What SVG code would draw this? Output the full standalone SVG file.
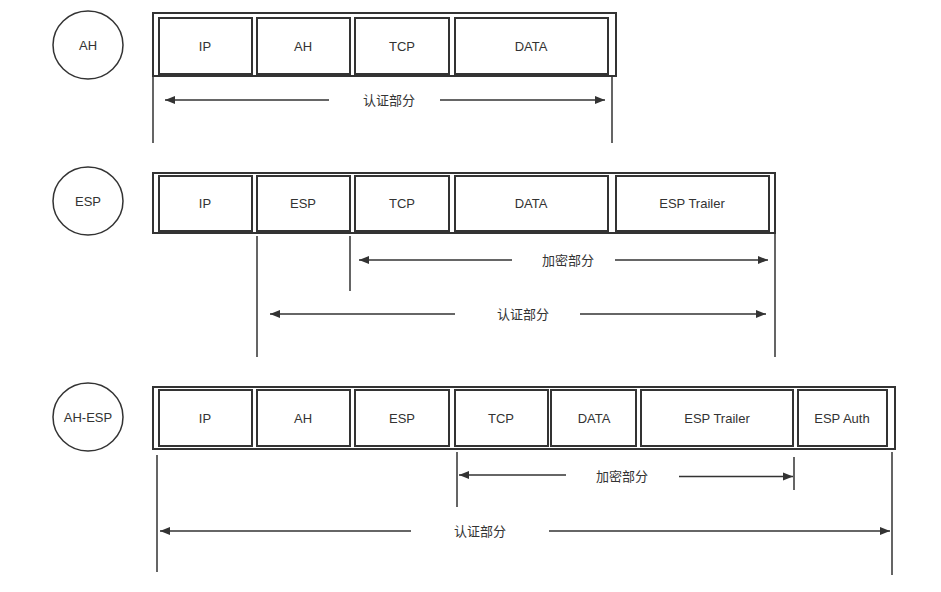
<svg xmlns="http://www.w3.org/2000/svg" width="941" height="592" viewBox="0 0 941 592">
<defs>
<style>
.o{fill:#fff;stroke:#333;stroke-width:2}
.b{fill:#fff;stroke:#333;stroke-width:2}
.c{fill:#fff;stroke:#333;stroke-width:1.5}
.t{font-family:"Liberation Sans","Noto Sans CJK SC",sans-serif;font-size:13px;fill:#333;text-anchor:middle;dominant-baseline:central}
.l{stroke:#333;stroke-width:1.5;fill:none}
</style>
<marker id="a" viewBox="0 0 10 10" refX="10" refY="5" markerWidth="10" markerHeight="10" markerUnits="userSpaceOnUse" orient="auto-start-reverse"><path d="M0,1 L10,5 L0,9 Z" fill="#333"/></marker>
</defs>
<g id="row1">
<g id="c1"><ellipse class="c" cx="88" cy="45" rx="35" ry="34"/><text class="t" x="88" y="45">AH</text></g>
<rect class="o" x="153" y="13" width="463" height="63"/>
<g id="r1ip"><rect class="b" x="159" y="18" width="93" height="56"/><text class="t" x="205" y="46">IP</text></g>
<g id="r1ah"><rect class="b" x="257" y="18" width="93" height="56"/><text class="t" x="303" y="46">AH</text></g>
<g id="r1tcp"><rect class="b" x="355" y="18" width="94" height="56"/><text class="t" x="402" y="46">TCP</text></g>
<g id="r1data"><rect class="b" x="455" y="18" width="153" height="56"/><text class="t" x="531" y="46">DATA</text></g>
</g>
<g id="row2">
<g id="c2"><ellipse class="c" cx="88" cy="201" rx="35" ry="34"/><text class="t" x="88" y="201">ESP</text></g>
<rect class="o" x="153" y="173" width="622" height="60"/>
<g id="r2ip"><rect class="b" x="159" y="176" width="93" height="55"/><text class="t" x="205" y="203">IP</text></g>
<g id="r2esp"><rect class="b" x="257" y="176" width="93" height="55"/><text class="t" x="303" y="203">ESP</text></g>
<g id="r2tcp"><rect class="b" x="355" y="176" width="94" height="55"/><text class="t" x="402" y="203">TCP</text></g>
<g id="r2data"><rect class="b" x="455" y="176" width="153" height="55"/><text class="t" x="531" y="203">DATA</text></g>
<g id="r2tr"><rect class="b" x="616" y="176" width="153" height="55"/><text class="t" x="692" y="203">ESP Trailer</text></g>
</g>
<g id="row3">
<g id="c3"><ellipse class="c" cx="88" cy="417" rx="35" ry="34"/><text class="t" x="88" y="417">AH-ESP</text></g>
<rect class="o" x="153" y="387" width="742" height="62"/>
<g id="r3ip"><rect class="b" x="159" y="390" width="93" height="56"/><text class="t" x="205" y="418">IP</text></g>
<g id="r3ah"><rect class="b" x="257" y="390" width="93" height="56"/><text class="t" x="303" y="418">AH</text></g>
<g id="r3esp"><rect class="b" x="355" y="390" width="94" height="56"/><text class="t" x="402" y="418">ESP</text></g>
<g id="r3tcp"><rect class="b" x="455" y="390" width="93" height="56"/><text class="t" x="501" y="418">TCP</text></g>
<g id="r3data"><rect class="b" x="551" y="390" width="85" height="56"/><text class="t" x="594" y="418">DATA</text></g>
<g id="r3tr"><rect class="b" x="641" y="390" width="152" height="56"/><text class="t" x="717" y="418">ESP Trailer</text></g>
<g id="r3auth"><rect class="b" x="798" y="390" width="89" height="56"/><text class="t" x="842" y="418">ESP Auth</text></g>
</g>
<g id="connectors">
<path class="l" d="M153,76V143M612,76V143"/>
<path class="l" d="M329,100H165" marker-end="url(#a)"/><path class="l" d="M440,100H605" marker-end="url(#a)"/>
<text class="t" x="389" y="100">认证部分</text>
<path class="l" d="M350,236V291M257,236V357M775,233V357"/>
<path class="l" d="M512,260H359" marker-end="url(#a)"/><path class="l" d="M615,260H768" marker-end="url(#a)"/>
<text class="t" x="568" y="260">加密部分</text>
<path class="l" d="M455,314H270" marker-end="url(#a)"/><path class="l" d="M580,314H766" marker-end="url(#a)"/>
<text class="t" x="523" y="314">认证部分</text>
<path class="l" d="M157,455V572M457,452V507M794,457V490M892,452V575"/>
<path class="l" d="M566,475H459" marker-end="url(#a)"/><path class="l" d="M679,476.5H793" marker-end="url(#a)"/>
<text class="t" x="622" y="476">加密部分</text>
<path class="l" d="M411,531H160" marker-end="url(#a)"/><path class="l" d="M549,531H890" marker-end="url(#a)"/>
<text class="t" x="480" y="531">认证部分</text>
</g>
</svg>
